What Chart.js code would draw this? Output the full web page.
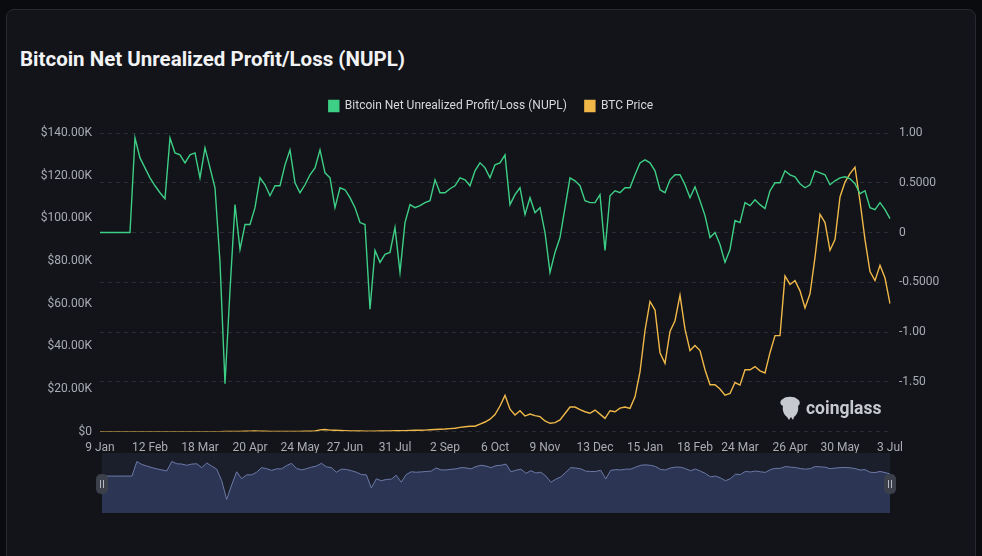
<!DOCTYPE html>
<html>
<head>
<meta charset="utf-8">
<script src="https://cdn.jsdelivr.net/npm/chart.js@4.4.1/dist/chart.umd.min.js"></script>
<style>
  html, body { margin: 0; padding: 0; background: #0a0b0f; }
  body { width: 982px; height: 556px; position: relative; overflow: hidden; font-family: Roboto, "Noto Sans", sans-serif; }
  .card { position: absolute; left: 6px; top: 9px; width: 968px; height: 580px; background: #121419; border: 1px solid #262930; border-radius: 8px; }
  h1 { position: absolute; left: 20px; top: 47px; margin: 0; font-size: 20.5px; font-weight: 700; color: #f2f3f5; }
  #main { position: absolute; left: 0; top: 82px; }
  #zoomBox { position: absolute; left: 102px; top: 453px; width: 788px; height: 60px; background: #1b1f2c; }
  #mini { position: absolute; left: 0; top: 0; }
  .handle { position: absolute; top: 474px; width: 12px; height: 20px; border-radius: 5px; background: #3c404b; }
  .handle::before, .handle::after { content: ""; position: absolute; top: 6px; width: 1px; height: 8px; background: #b5b8c0; }
  .handle::before { left: 4px; }
  .handle::after { left: 7px; }
  .mark { position: absolute; left: 779px; top: 396px; display: flex; align-items: center; gap: 5px; color: #c6c9d0; font-weight: 700; font-size: 17.5px; }
</style>
</head>
<body>
<div class="card"></div>
<h1>Bitcoin Net Unrealized Profit/Loss (NUPL)</h1>
<canvas id="main" width="982" height="382"></canvas>
<div id="zoomBox"><canvas id="mini" width="788" height="60"></canvas></div>
<div class="handle" style="left:96px"></div>
<div class="handle" style="left:884px"></div>
<div class="mark">
  <svg width="22" height="24" viewBox="0 0 22 24"><path d="M4 3 C6 0 16 0 18 3 C21 4 22 8 19 10 C20 14 18 19 15 21 L14 24 L12 21 L10 24 L8 21 C5 19 3 14 4 10 C0 8 1 4 4 3 Z" fill="#c6c9d0"/></svg>
  <span>coinglass</span>
</div>
<script>
// x axis tick labels shown under the chart
const tickLabels = ['9 Jan', '12 Feb', '18 Mar', '20 Apr', '24 May', '27 Jun', '31 Jul', '2 Sep', '6 Oct',
  '9 Nov', '13 Dec', '15 Jan', '18 Feb', '24 Mar', '26 Apr', '30 May', '3 Jul'];

// right axis labels, top to bottom (1 .. -2)
const rightTickText = ['1.00', '0.5000', '0', '-0.5000', '-1.00', '-1.50', ''];

// NUPL
const nupl = [
  0, 0, 0, 0, 0, 0, 0, 0.95, 0.75, 0.65,
  0.55, 0.47, 0.4, 0.34, 0.95, 0.8, 0.78, 0.7, 0.78, 0.8,
  0.55, 0.85, 0.65, 0.45, -0.3, -1.52, -0.58, 0.28, -0.17, 0.08,
  0.08, 0.25, 0.55, 0.48, 0.37, 0.47, 0.47, 0.68, 0.83, 0.5,
  0.4, 0.48, 0.58, 0.65, 0.83, 0.6, 0.55, 0.25, 0.45, 0.43,
  0.35, 0.25, 0.1, 0.08, -0.77, -0.18, -0.3, -0.22, -0.2, 0.05,
  -0.4, 0.1, 0.28, 0.25, 0.27, 0.3, 0.32, 0.53, 0.4, 0.4,
  0.44, 0.47, 0.55, 0.53, 0.47, 0.62, 0.7, 0.65, 0.55, 0.68,
  0.7, 0.78, 0.28, 0.38, 0.45, 0.18, 0.35, 0.2, 0.25, 0.0,
  -0.4, -0.2, -0.05, 0.25, 0.55, 0.52, 0.47, 0.32, 0.3, 0.3,
  0.38, -0.18, 0.37, 0.42, 0.4, 0.45, 0.45, 0.58, 0.7, 0.73,
  0.7, 0.62, 0.43, 0.4, 0.53, 0.58, 0.58, 0.48, 0.35, 0.46,
  0.32, 0.17, -0.05, 0.0, -0.12, -0.3, -0.17, 0.12, 0.1, 0.3,
  0.27, 0.33, 0.28, 0.24, 0.42, 0.5, 0.5, 0.62, 0.58, 0.56,
  0.49, 0.45, 0.48, 0.62, 0.6, 0.58, 0.48, 0.52, 0.55, 0.56,
  0.54, 0.49, 0.39, 0.42, 0.25, 0.23, 0.3, 0.23, 0.14
];

// BTC price in thousands of USD
const btcPrice = [
  0, 0, 0, 0, 0, 0, 0, 0, 0, 0,
  0, 0, 0, 0, 0, 0, 0, 0, 0, 0,
  0, 0, 0, 0, 0.01, 0.02, 0.03, 0.05, 0.1, 0.15,
  0.2, 0.3, 0.2, 0.15, 0.1, 0.08, 0.1, 0.12, 0.12, 0.1,
  0.12, 0.13, 0.15, 0.3, 0.8, 1.0, 0.7, 0.6, 0.5, 0.45,
  0.35, 0.3, 0.25, 0.22, 0.2, 0.23, 0.25, 0.28, 0.35, 0.4,
  0.42, 0.45, 0.5, 0.6, 0.65, 0.7, 0.9, 1.0, 1.1, 1.2,
  1.4, 1.6, 2.0, 2.3, 2.5, 2.5, 3.5, 4.5, 5.8, 8.0,
  12, 17, 10.5, 7.8, 9.8, 7.3, 8.2, 7.5, 7, 5,
  3.9, 4.2, 5.5, 8.5, 11.5, 11.5, 10.3, 9.3, 8.6, 10.1,
  8.2, 6.2, 9.8, 9.3, 11, 11.5, 10.9, 16.3, 28, 47.4,
  61, 57, 37, 32, 47, 52, 64, 48, 38, 40.4,
  38, 29, 22, 22, 20, 17.1, 17.9, 23, 21.8, 29,
  29, 30.5, 28.5, 27.5, 37, 45, 45, 73, 69, 70.8,
  66, 58, 64.6, 81.7, 101.9, 98, 85, 90, 110, 117,
  121, 124, 108, 90, 75, 70.8, 78, 72, 60
];

const font = 'Roboto, "Noto Sans", sans-serif';
const last = nupl.length - 1;
const tickIdx = tickLabels.map((t, k) => Math.round(k * last / (tickLabels.length - 1)));
const cats = nupl.map((v, i) => {
  const k = tickIdx.indexOf(i);
  return k >= 0 ? tickLabels[k] : '';
});

// extra room between legend and plot
const legendGap = {
  id: 'legendGap',
  beforeInit(chart) {
    const fit = chart.legend.fit;
    chart.legend.fit = function () {
      fit.bind(chart.legend)();
      this.height += 11;
    };
  }
};

new Chart(document.getElementById('main').getContext('2d'), {
  type: 'line',
  data: {
    labels: cats,
    datasets: [
      {
        label: 'Bitcoin Net Unrealized Profit/Loss (NUPL)',
        data: nupl,
        yAxisID: 'y1',
        borderColor: '#3ecf86',
        backgroundColor: '#3ecf86',
        borderWidth: 1.4,
        pointRadius: 0,
        tension: 0
      },
      {
        label: 'BTC Price',
        data: btcPrice,
        yAxisID: 'y',
        borderColor: '#f0b848',
        backgroundColor: '#f0b848',
        borderWidth: 1.4,
        pointRadius: 0,
        tension: 0
      }
    ]
  },
  plugins: [legendGap],
  options: {
    responsive: false,
    animation: false,
    layout: { padding: 0 },
    plugins: {
      legend: {
        labels: {
          color: '#d6d8dc',
          font: { family: font, size: 12 },
          boxWidth: 10,
          boxHeight: 11,
          padding: 18
        }
      },
      tooltip: { enabled: false }
    },
    scales: {
      x: {
        grid: { display: false, drawTicks: false },
        border: { display: false },
        afterBuildTicks: (s) => { s.ticks = tickIdx.map(i => ({ value: i })); },
        ticks: {
          color: '#a9acb3',
          font: { family: font, size: 12 },
          autoSkip: false,
          maxRotation: 0,
          padding: 9,
          callback: (v) => cats[v]
        }
      },
      y: {
        position: 'left',
        min: 0,
        max: 140,
        grid: { display: false, drawTicks: false },
        border: { display: false },
        afterFit: (s) => { s.width = 100; },
        ticks: {
          stepSize: 20,
          color: '#a9acb3',
          font: { family: font, size: 12 },
          padding: 8,
          callback: (v) => v === 0 ? '$0' : '$' + v.toFixed(2) + 'K'
        }
      },
      y1: {
        position: 'right',
        min: -2,
        max: 1,
        grid: { color: '#2a2d35', drawTicks: false },
        border: { display: false, dash: [4, 4] },
        afterFit: (s) => { s.width = 92; },
        ticks: {
          stepSize: 0.5,
          color: '#a9acb3',
          font: { family: font, size: 12 },
          padding: 9,
          callback: (v) => rightTickText[Math.round((1 - v) / 0.5)]
        }
      }
    }
  }
});

// the small overview strip under the chart
new Chart(document.getElementById('mini').getContext('2d'), {
  type: 'line',
  data: {
    labels: cats,
    datasets: [{
      data: nupl,
      borderColor: '#6b7aa6',
      backgroundColor: '#2c3553',
      borderWidth: 1,
      pointRadius: 0,
      fill: 'start'
    }]
  },
  options: {
    responsive: false,
    animation: false,
    plugins: { legend: { display: false }, tooltip: { enabled: false } },
    scales: {
      x: { display: false },
      y: { display: false, min: -2.4, max: 1.5 }
    }
  }
});
</script>
</body>
</html>
